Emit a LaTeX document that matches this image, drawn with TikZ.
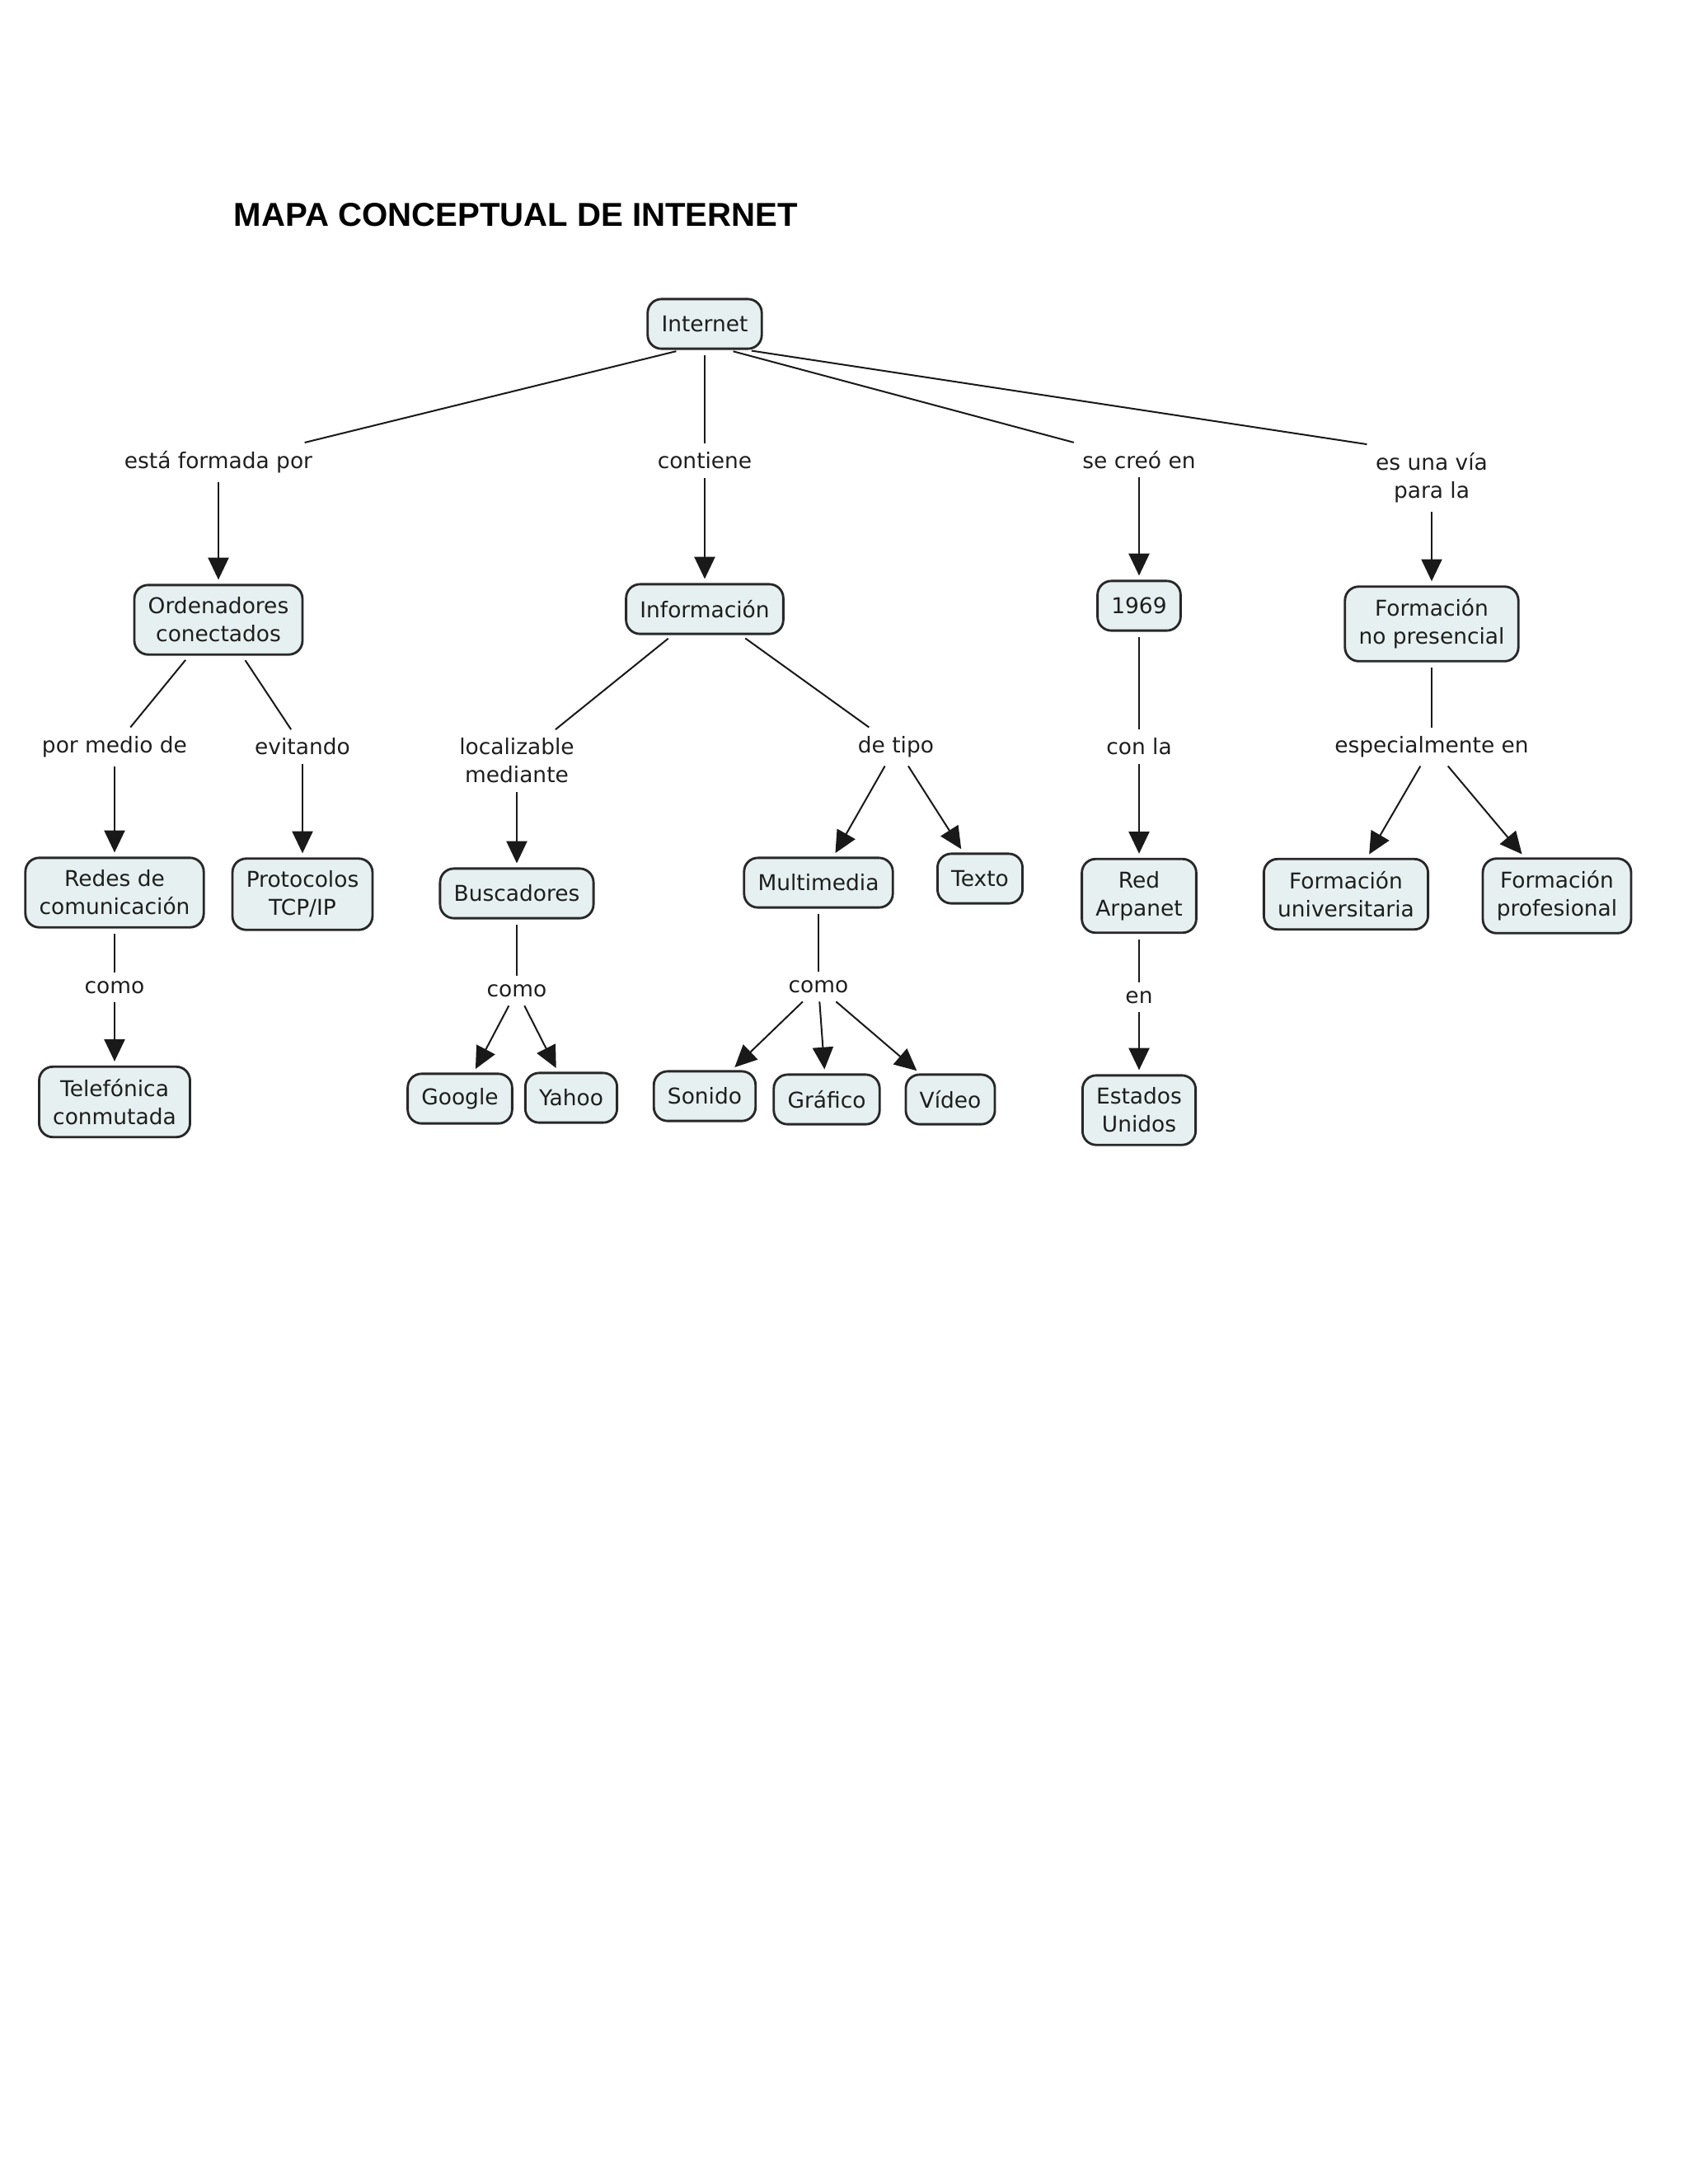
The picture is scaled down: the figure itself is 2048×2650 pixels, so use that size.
\documentclass[tikz,border=0pt]{standalone}
\usepackage{fontspec}
\setmainfont{DejaVu Sans}
\newfontfamily\titlefont{Liberation Sans}
\usepackage{tikz}
\usetikzlibrary{shapes, arrows.meta, positioning, calc}
\definecolor{boxfill}{RGB}{230, 240, 240}
\definecolor{boxline}{RGB}{40, 40, 40}
\definecolor{inktext}{RGB}{30, 30, 30}
\definecolor{wire}{RGB}{25, 25, 25}

\tikzset{
	concept/.style={draw=boxline, fill=boxfill, line width=0.85pt, rounded corners=5pt,
		align=center, inner xsep=5pt, inner ysep=4.5pt, minimum height=18pt,
		text=inktext, font=\fontsize{7.9}{10.1}\selectfont},
	linkword/.style={align=center, inner sep=3pt, text=inktext,
		font=\fontsize{7.9}{10.1}\selectfont},
	link/.style={draw=wire, line width=0.6pt, shorten <=2pt},
	linkarrow/.style={draw=wire, line width=0.6pt, -{Triangle[width=7.5pt,length=8pt]},
		shorten >=1.5pt}
}

\begin{document}
\begin{tikzpicture}[x=0.2988pt, y=-0.2988pt]
		\useasboundingbox (0,0) rectangle (2048,2650);
		\node[anchor=base west, font=\titlefont\bfseries\fontsize{12}{14}\selectfont] (title) at (272,274) {MAPA CONCEPTUAL DE INTERNET};

		% conceptos
		\node[concept] (inet) at (855,393) {Internet};
		\node[concept] (orden) at (265,752) {Ordenadores\\conectados};
		\node[concept] (info) at (855,739) {Información};
		\node[concept] (anio) at (1382,735) {1969};
		\node[concept] (fnopres) at (1737,757) {Formación\\no presencial};
		\node[concept] (redes) at (139,1083) {Redes de\\comunicación};
		\node[concept] (tcpip) at (367,1085) {Protocolos\\TCP/IP};
		\node[concept] (busc) at (627,1084) {Buscadores};
		\node[concept] (multi) at (993,1071) {Multimedia};
		\node[concept] (texto) at (1189,1066) {Texto};
		\node[concept] (arpanet) at (1382,1087) {Red\\Arpanet};
		\node[concept] (funiv) at (1633,1085) {Formación\\universitaria};
		\node[concept] (fprof) at (1889,1087) {Formación\\profesional};
		\node[concept] (telef) at (139,1337) {Telefónica\\conmutada};
		\node[concept] (google) at (558,1333) {Google};
		\node[concept] (yahoo) at (693,1332) {Yahoo};
		\node[concept] (sonido) at (855,1330) {Sonido};
		\node[concept] (grafico) at (1003,1334) {Gráfico};
		\node[concept] (video) at (1153,1334) {Vídeo};
		\node[concept] (eeuu) at (1382,1347) {Estados\\Unidos};

		% palabras de enlace
		\node[linkword] (lbfor) at (265,561) {está formada por};
		\node[linkword] (lbcont) at (855,559) {contiene};
		\node[linkword] (lbcreo) at (1382,558) {se creó en};
		\node[linkword] (lbvia) at (1737,580) {es una vía\\para la};
		\node[linkword] (lbmedio) at (139,906) {por medio de};
		\node[linkword] (lbevit) at (367,906) {evitando};
		\node[linkword] (lbloc) at (627,923) {localizable\\mediante};
		\node[linkword] (lbtipo) at (1087,906) {de tipo};
		\node[linkword] (lbconla) at (1382,906) {con la};
		\node[linkword] (lbesp) at (1737,906) {especialmente en};
		\node[linkword] (lbcomo1) at (139,1198) {como};
		\node[linkword] (lbcomo2) at (627,1202) {como};
		\node[linkword] (lbcomo3) at (993,1197) {como};
		\node[linkword] (lben) at (1382,1210) {en};

		% enlaces desde Internet
		\draw[link] ([xshift=-8.4pt]inet.south) -- ([xshift=-6pt]lbfor.north east);
		\draw[link] (inet) -- (lbcont);
		\draw[link] ([xshift=8.4pt]inet.south) -- (lbcreo);
		\draw[link] ([xshift=15pt]inet.south) -- (lbvia.north west);
		\draw[linkarrow] (lbfor) -- (orden);
		\draw[linkarrow] (lbcont) -- (info);
		\draw[linkarrow] (lbcreo) -- (anio);
		\draw[linkarrow] (lbvia) -- (fnopres);

		% ordenadores
		\draw[link] (orden) -- (lbmedio);
		\draw[link] (orden) -- (lbevit);
		\draw[linkarrow] (lbmedio) -- (redes);
		\draw[linkarrow] (lbevit) -- (tcpip);
		\draw[link] (redes) -- (lbcomo1);
		\draw[linkarrow] (lbcomo1) -- (telef);

		% informacion
		\draw[link] (info) -- (lbloc);
		\draw[link] (info) -- (lbtipo);
		\draw[linkarrow] (lbloc) -- (busc);
		\draw[linkarrow] (lbtipo) -- (multi);
		\draw[linkarrow] (lbtipo) -- (texto);
		\draw[link] (busc) -- (lbcomo2);
		\draw[linkarrow] (lbcomo2) -- (google);
		\draw[linkarrow] (lbcomo2) -- (yahoo);
		\draw[link] (multi) -- (lbcomo3);
		\draw[linkarrow] (lbcomo3) -- (sonido);
		\draw[linkarrow] (lbcomo3) -- (grafico);
		\draw[linkarrow] (lbcomo3) -- (video);

		% 1969
		\draw[link] (anio) -- (lbconla);
		\draw[linkarrow] (lbconla) -- (arpanet);
		\draw[link] (arpanet) -- (lben);
		\draw[linkarrow] (lben) -- (eeuu);

		% formacion
		\draw[link] (fnopres) -- (lbesp);
		\draw[linkarrow] (lbesp) -- (funiv);
		\draw[linkarrow] (lbesp) -- (fprof);
	\end{tikzpicture}
\end{document}
